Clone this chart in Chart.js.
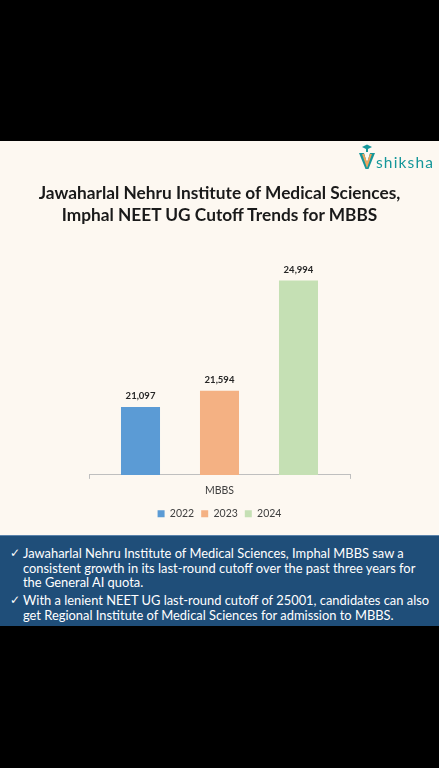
<!DOCTYPE html>
<html>
<head>
<meta charset="utf-8">
<script src="https://cdn.jsdelivr.net/npm/chart.js@4.4.1/dist/chart.umd.min.js"></script>
<style>
    html, body { margin: 0; padding: 0; background: #000; width: 439px; height: 768px; overflow: hidden; }
    #card { position: absolute; left: 0; top: 141px; width: 439px; height: 394px; background: #fdf8f1; }
    #chartBox { position: absolute; left: 0; top: 0; width: 439px; height: 394px; }
    #chartTitle { position: absolute; left: 0; top: 41px; width: 439px; text-align: center; line-height: 22px; font-family: Lato, sans-serif; font-weight: bold; color: #1a1a1a; white-space: nowrap; }
    #logo { position: absolute; left: 358px; top: 0; }
    #notes { position: absolute; left: 0; top: 535px; width: 439px; height: 90px; background: #1f4e79; border-top: 1px solid #5b83ab; color: #fff; font-family: Lato, sans-serif; }
    .line { position: absolute; left: 23px; white-space: nowrap; line-height: 14px; }
    .tick { position: absolute; left: 10px; line-height: 14px; font-family: "DejaVu Sans", sans-serif; }
</style>
</head>
<body>
<div id="card">
    <div id="chartBox"><canvas id="cutoffChart"></canvas></div>
    <div id="chartTitle"></div>
    <svg id="logo" width="81" height="34" viewBox="0 0 81 34">
        <polygon points="4,6 9,3.5 14,6 9,8.5" fill="#15979a"/>
        <rect x="8" y="8" width="2" height="3" fill="#15979a"/>
        <path d="M1,12 L6,12 L9,22 L12,12 L17,12 L10.5,28 L7.5,28 Z" fill="#15979a"/>
        <path d="M5,13 L9,24 L13,13" fill="none" stroke="#f0a35a" stroke-width="2"/>
        <text x="18" y="27" font-family="Lato, sans-serif" font-size="15.5" fill="#15979a" textLength="57">shiksha</text>
    </svg>
</div>
<div id="notes"></div>

<script>
(async () => {
    const categories = ["MBBS"];
    const years = ["2022", "2023", "2024"];
    const cutoffs = [21097, 21594, 24994];
    const barColors = ["#5b9bd5", "#f4b183", "#c5e0b4"];
    const yMin = 19000;
    const yMax = 26000;

    const titleLines = [
        "Jawaharlal Nehru Institute of Medical Sciences,",
        "Imphal NEET UG Cutoff Trends for MBBS"
    ];
    const noteLines = [
        { text: "Jawaharlal Nehru Institute of Medical Sciences, Imphal MBBS saw a", top: 10, check: true },
        { text: "consistent growth in its last-round cutoff over the past three years for", top: 25 },
        { text: "the General AI quota.", top: 39 },
        { text: "With a lenient NEET UG last-round cutoff of 25001, candidates can also", top: 57, check: true },
        { text: "get Regional Institute of Medical Sciences for admission to MBBS.", top: 72 }
    ];

    // make sure both Lato weights are there before measuring anything
    try {
        await Promise.all([
            document.fonts.load("bold 16px Lato"),
            document.fonts.load("16px Lato")
        ]);
    } catch (e) {
        // fall through, sizes below just come out a bit off
    }

    // pick a font size so a line comes out at the width seen in the picture
    const measure = document.createElement("canvas").getContext("2d");
    const fitSize = (text, weight, family, width) => {
        measure.font = `${weight} 100px ${family}`;
        return Math.round(100 * width / measure.measureText(text).width * 10) / 10;
    };

    const titleSize = fitSize(titleLines[0], "bold", "Lato", 362);
    const noteSize = fitSize(noteLines[0].text, "normal", "Lato", 381);

    const title = document.getElementById("chartTitle");
    title.style.fontSize = titleSize + "px";
    titleLines.forEach((text) => {
        const div = document.createElement("div");
        div.textContent = text;
        title.appendChild(div);
    });

    const notes = document.getElementById("notes");
    noteLines.forEach((line) => {
        if (line.check) {
            const tick = document.createElement("div");
            tick.className = "tick";
            tick.style.top = line.top + "px";
            tick.style.fontSize = "12px";
            tick.textContent = "\u2713";
            notes.appendChild(tick);
        }
        const div = document.createElement("div");
        div.className = "line";
        div.style.top = line.top + "px";
        div.style.fontSize = noteSize + "px";
        div.textContent = line.text;
        notes.appendChild(div);
    });

    const valueLabels = {
        id: "valueLabels",
        afterDatasetsDraw(chart) {
            const ctx = chart.ctx;
            ctx.save();
            ctx.font = "bold 9.5px Lato";
            ctx.fillStyle = "#262626";
            ctx.textAlign = "center";
            ctx.textBaseline = "middle";
            chart.data.datasets.forEach((dataset, i) => {
                chart.getDatasetMeta(i).data.forEach((bar, j) => {
                    ctx.fillText(dataset.data[j].toLocaleString("en-US"), bar.x, bar.y - 11);
                });
            });
            ctx.restore();
        }
    };

    new Chart(document.getElementById("cutoffChart"), {
        type: "bar",
        data: {
            labels: categories,
            datasets: years.map((year, i) => ({
                label: year,
                data: [cutoffs[i]],
                backgroundColor: barColors[i],
                borderWidth: 0,
                categoryPercentage: 0.908,
                barPercentage: 0.494
            }))
        },
        options: {
            responsive: true,
            maintainAspectRatio: false,
            animation: false,
            layout: { padding: { top: 107, left: 89, right: 89, bottom: 6 } },
            plugins: {
                title: { display: false },
                legend: {
                    display: true,
                    position: "bottom",
                    labels: {
                        boxWidth: 7,
                        boxHeight: 7,
                        padding: 7,
                        color: "#404040",
                        font: { family: "Lato", size: 10.5 }
                    }
                },
                tooltip: { enabled: false }
            },
            scales: {
                x: {
                    grid: { display: true, drawOnChartArea: false, tickLength: 4, color: "#bfbfbf" },
                    border: { display: true, color: "#bfbfbf" },
                    ticks: { color: "#404040", padding: 5, font: { family: "Lato", size: 10.5 } }
                },
                y: {
                    display: false,
                    min: yMin,
                    max: yMax
                }
            }
        },
        plugins: [valueLabels]
    });
})();
</script>
</body>
</html>
